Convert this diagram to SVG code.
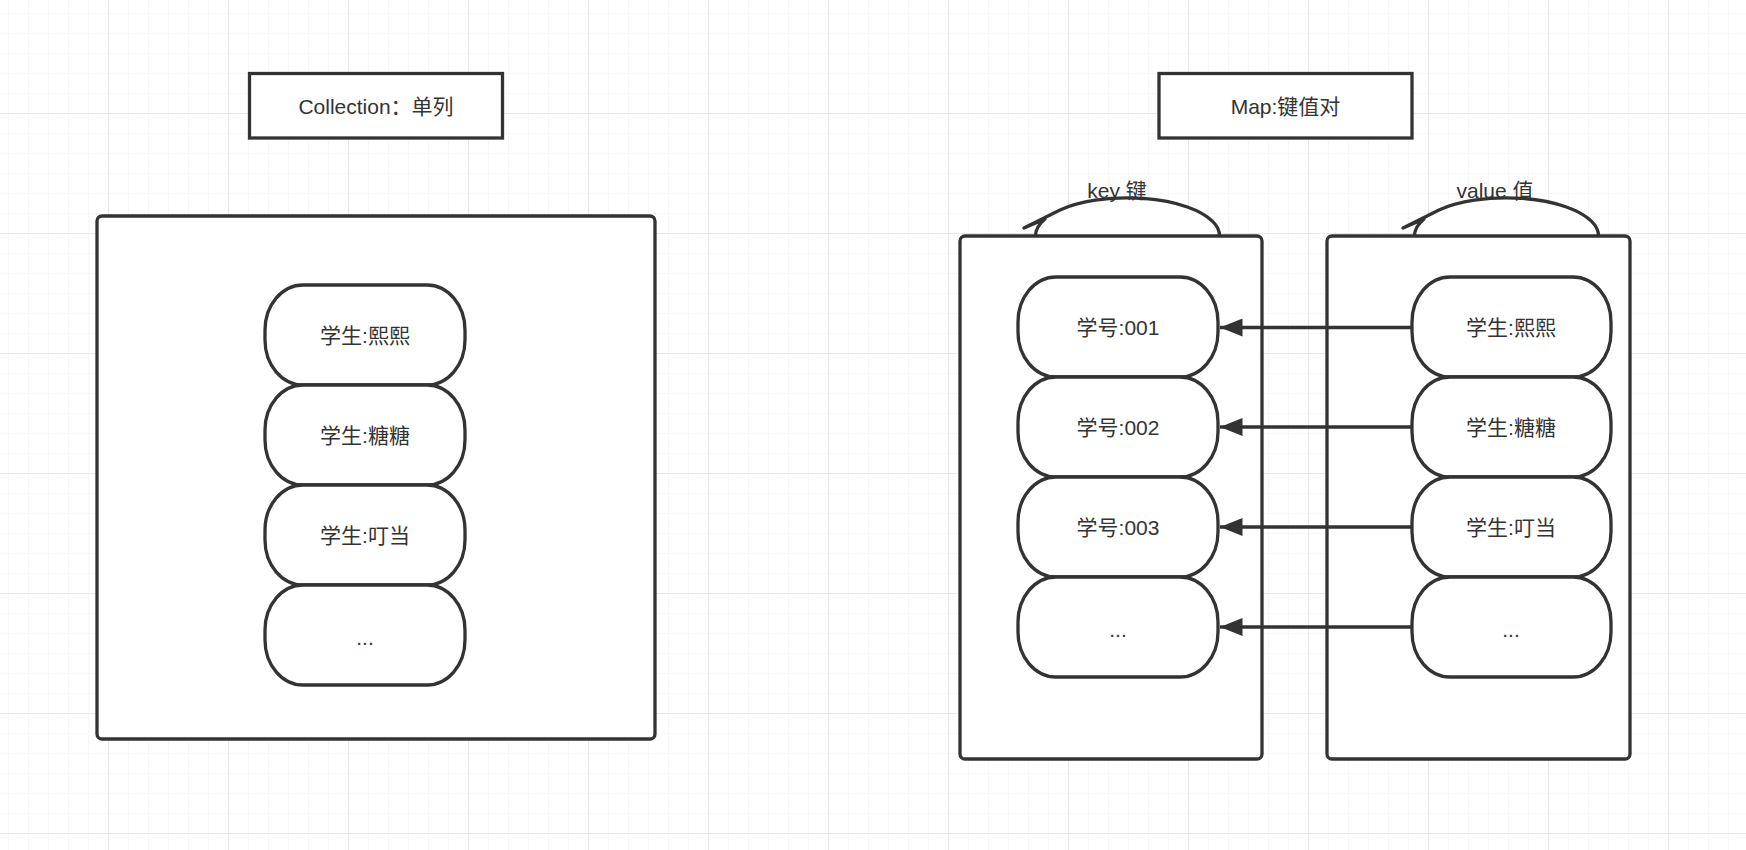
<svg xmlns="http://www.w3.org/2000/svg" width="1746" height="850" viewBox="0 0 1746 850">
<defs>
<pattern id="minor" width="20" height="20" patternUnits="userSpaceOnUse" x="9" y="14"><path d="M20 0V20M0 20H20" fill="none" stroke="#efefef" stroke-width="1"/></pattern>
<pattern id="major" width="120" height="120" patternUnits="userSpaceOnUse" x="-11" y="-6"><path d="M120 0V120M0 120H120" fill="none" stroke="#e4e4e4" stroke-width="1.5"/></pattern>
<marker id="arr" viewBox="0 0 10 10" refX="9" refY="5" markerWidth="7" markerHeight="7" markerUnits="userSpaceOnUse" orient="auto"><path d="M0 0L10 5L0 10z" fill="#333"/></marker>
<marker id="a2" viewBox="0 0 20 16" refX="20" refY="8" markerWidth="24" markerHeight="18" markerUnits="userSpaceOnUse" orient="auto"><path d="M0 0L20 8L0 16z" fill="#333"/></marker>
</defs>
<style>
.s{fill:#fff;stroke:#333;stroke-width:3.3}
.t{font-family:"Liberation Sans","Noto Sans CJK SC",sans-serif;font-size:21px;fill:#333;text-anchor:middle;dominant-baseline:central}
.c{stroke:#333;stroke-width:3.3;fill:none}
</style>
<rect width="1746" height="850" fill="#fff"/>
<rect width="1746" height="850" fill="url(#minor)"/>
<rect width="1746" height="850" fill="url(#major)"/>
<g id="collection-title"><rect class="s" x="249.5" y="73.5" width="253" height="64.5"/><text class="t" x="376" y="106">Collection：单列</text></g>
<g id="collection-box"><rect class="s" x="97" y="216" width="558" height="523" rx="5"/></g>
<g id="c1"><rect class="s" x="265" y="285" width="200" height="100" rx="38" ry="45"/><text class="t" x="365" y="335">学生:熙熙</text></g>
<g id="c2"><rect class="s" x="265" y="385" width="200" height="100" rx="38" ry="45"/><text class="t" x="365" y="435">学生:糖糖</text></g>
<g id="c3"><rect class="s" x="265" y="485" width="200" height="100" rx="38" ry="45"/><text class="t" x="365" y="535">学生:叮当</text></g>
<g id="c4"><rect class="s" x="265" y="585" width="200" height="100" rx="38" ry="45"/><text class="t" x="365" y="637">...</text></g>
<g id="map-title"><rect class="s" x="1159" y="73.5" width="253" height="64.5"/><text class="t" x="1285.5" y="106">Map:键值对</text></g>
<g id="key-callout"><path class="s" d="M1045 219 A92 38 0 1 0 1060 210 L1024 228 Z" stroke-linejoin="round"/><text class="t" x="1117" y="190">key 键</text></g>
<g id="value-callout"><path class="s" d="M1424 219 A92 38 0 1 0 1439 210 L1403 228 Z" stroke-linejoin="round"/><text class="t" x="1495" y="190">value 值</text></g>
<g id="key-box"><rect class="s" x="960" y="236" width="302" height="523" rx="5"/></g>
<g id="value-box"><rect class="s" x="1327" y="236" width="303" height="523" rx="5"/></g>
<g id="k1"><rect class="s" x="1018" y="277" width="200" height="100" rx="38" ry="45"/><text class="t" x="1118" y="327">学号:001</text></g>
<g id="k2"><rect class="s" x="1018" y="377" width="200" height="100" rx="38" ry="45"/><text class="t" x="1118" y="427">学号:002</text></g>
<g id="k3"><rect class="s" x="1018" y="477" width="200" height="100" rx="38" ry="45"/><text class="t" x="1118" y="527">学号:003</text></g>
<g id="k4"><rect class="s" x="1018" y="577" width="200" height="100" rx="38" ry="45"/><text class="t" x="1118" y="629">...</text></g>
<g id="v1"><rect class="s" x="1412" y="277" width="199" height="100" rx="38" ry="45"/><text class="t" x="1511" y="327">学生:熙熙</text></g>
<g id="v2"><rect class="s" x="1412" y="377" width="199" height="100" rx="38" ry="45"/><text class="t" x="1511" y="427">学生:糖糖</text></g>
<g id="v3"><rect class="s" x="1412" y="477" width="199" height="100" rx="38" ry="45"/><text class="t" x="1511" y="527">学生:叮当</text></g>
<g id="v4"><rect class="s" x="1412" y="577" width="199" height="100" rx="38" ry="45"/><text class="t" x="1511" y="629">...</text></g>
<g id="connectors">
<line class="c" x1="1412" y1="327.5" x2="1220" y2="327.5" marker-end="url(#a2)"/>
<line class="c" x1="1412" y1="427" x2="1220" y2="427" marker-end="url(#a2)"/>
<line class="c" x1="1412" y1="527" x2="1220" y2="527" marker-end="url(#a2)"/>
<line class="c" x1="1412" y1="627" x2="1220" y2="627" marker-end="url(#a2)"/>
</g>
</svg>
